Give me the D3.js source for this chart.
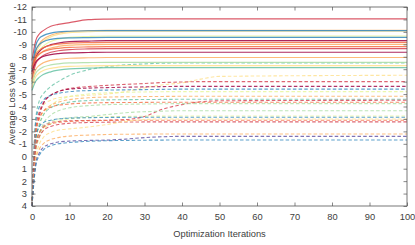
<!DOCTYPE html>
<html>
<head>
<meta charset="utf-8">
<script src="https://cdn.jsdelivr.net/npm/d3@7"></script>
<style>
  html, body { margin: 0; padding: 0; background: #fff; }
  text { font-family: "Liberation Sans", Arial, sans-serif; }
</style>
</head>
<body>
<div id="chart"></div>
<script>
const iterations = [0, 1, 2, 3, 5, 7, 10, 15, 20, 25, 30, 35, 40, 45, 50, 100]

const xTickValues = [0, 10, 20, 30, 40, 50, 60, 70, 80, 90, 100]
const yTickValues = [-12, -11, -10, -9, -8, -7, -6, -5, -4, -3, -2, -1, 0, 1, 2, 3, 4]

// solid runs
const solidColors = ['#d53e4f', '#fdae61', '#fee08b', '#3288bd', '#e6f598', '#3288bd', '#9e0142', '#f46d43',
  '#fdae61', '#f46d43', '#d53e4f', '#9e0142', '#fdae61', '#abdda4', '#fee08b', '#66c2a5']
const solidSeries = [
  [-7.7, -9.3, -9.85, -10.1, -10.45, -10.6, -10.75, -10.98, -11.03, -11.05, -11.05, -11.05, -11.05, -11.05, -11.05, -11.05],
  [-6.8, -8.47, -9.06, -9.4, -9.73, -9.9, -10.03, -10.1, -10.13, -10.13, -10.13, -10.13, -10.13, -10.13, -10.13, -10.13],
  [-6.3, -8.18, -8.85, -9.23, -9.6, -9.79, -9.94, -10.01, -10.05, -10.05, -10.05, -10.05, -10.05, -10.05, -10.05, -10.05],
  [-7.0, -8.9, -9.5, -9.7, -9.9, -10.0, -10.05, -10.09, -10.1, -10.1, -10.1, -10.1, -10.1, -10.1, -10.1, -10.1],
  [-6.0, -7.84, -8.5, -8.86, -9.23, -9.41, -9.56, -9.63, -9.67, -9.67, -9.67, -9.67, -9.67, -9.67, -9.67, -9.67],
  [-6.8, -8.5, -9.0, -9.2, -9.4, -9.48, -9.52, -9.54, -9.55, -9.55, -9.55, -9.55, -9.55, -9.55, -9.55, -9.55],
  [-6.6, -7.95, -8.43, -8.7, -8.97, -9.1, -9.21, -9.26, -9.29, -9.29, -9.29, -9.29, -9.29, -9.29, -9.29, -9.29],
  [-7.2, -8.18, -8.53, -8.73, -8.92, -9.02, -9.1, -9.14, -9.16, -9.16, -9.16, -9.16, -9.16, -9.16, -9.16, -9.16],
  [-6.5, -7.75, -8.2, -8.45, -8.7, -8.83, -8.93, -8.98, -9.0, -9.0, -9.0, -9.0, -9.0, -9.0, -9.0, -9.0],
  [-7.0, -7.91, -8.23, -8.41, -8.59, -8.68, -8.76, -8.79, -8.81, -8.81, -8.81, -8.81, -8.81, -8.81, -8.81, -8.81],
  [-6.2, -7.43, -7.87, -8.11, -8.36, -8.48, -8.58, -8.63, -8.65, -8.65, -8.65, -8.65, -8.65, -8.65, -8.65, -8.65],
  [-6.8, -7.58, -7.86, -8.02, -8.17, -8.25, -8.31, -8.34, -8.36, -8.36, -8.36, -8.36, -8.36, -8.36, -8.36, -8.36],
  [-6.0, -6.97, -7.32, -7.51, -7.71, -7.8, -7.88, -7.92, -7.94, -7.94, -7.94, -7.94, -7.94, -7.94, -7.94, -7.94],
  [-5.8, -6.68, -6.99, -7.17, -7.34, -7.43, -7.5, -7.53, -7.55, -7.55, -7.55, -7.55, -7.55, -7.55, -7.55, -7.55],
  [-5.5, -6.39, -6.71, -6.89, -7.07, -7.16, -7.23, -7.26, -7.28, -7.28, -7.28, -7.28, -7.28, -7.28, -7.28, -7.28],
  [-5.3, -6.03, -6.36, -6.57, -6.79, -6.92, -7.03, -7.08, -7.12, -7.12, -7.12, -7.12, -7.12, -7.12, -7.12, -7.12]
]

// dashed runs
const dashedColors = ['#66c2a5', '#fee08b', '#d53e4f', '#9e0142', '#3288bd', '#e6f598', '#fdae61', '#66c2a5', '#d53e4f',
  '#f46d43', '#abdda4', '#abdda4', '#e6f598', '#3288bd', '#f46d43', '#d53e4f', '#fee08b', '#fdae61', '#5e4fa2', '#3288bd']
const dashedSeries = [
  [4, -3.0, -4.5, -5.0, -5.6, -6.0, -6.5, -6.95, -7.2, -7.35, -7.43, -7.48, -7.5, -7.5, -7.5, -7.5],
  [4, -2.5, -3.6, -4.1, -4.5, -4.7, -4.8, -4.9, -5.0, -5.2, -5.5, -5.75, -5.9, -6.2, -6.42, -6.51],
  [4, -2.2, -3.6, -4.3, -4.9, -5.2, -5.45, -5.6, -5.7, -5.78, -5.85, -5.93, -5.97, -6.0, -6.0, -6.0],
  [4, -1.5, -3.3, -4.2, -4.9, -5.2, -5.4, -5.48, -5.52, -5.55, -5.58, -5.6, -5.62, -5.62, -5.62, -5.62],
  [4, -2.8, -4.0, -4.5, -4.9, -5.05, -5.2, -5.28, -5.32, -5.34, -5.36, -5.38, -5.4, -5.4, -5.4, -5.4],
  [4, -1.0, -2.5, -3.3, -4.1, -4.5, -4.8, -5.0, -5.1, -5.14, -5.17, -5.19, -5.2, -5.2, -5.2, -5.2],
  [4, -1.8, -3.0, -3.6, -4.1, -4.35, -4.55, -4.7, -4.76, -4.78, -4.8, -4.81, -4.82, -4.82, -4.82, -4.82],
  [4, -1.2, -2.6, -3.3, -3.9, -4.15, -4.35, -4.48, -4.53, -4.55, -4.56, -4.57, -4.58, -4.58, -4.58, -4.58],
  [4, -0.8, -1.9, -2.4, -2.7, -2.8, -2.85, -2.88, -2.9, -2.95, -3.2, -3.8, -4.15, -4.38, -4.46, -4.5],
  [4, -2.0, -3.1, -3.6, -3.95, -4.1, -4.2, -4.28, -4.31, -4.32, -4.33, -4.34, -4.34, -4.34, -4.34, -4.34],
  [4, -0.5, -1.8, -2.6, -3.3, -3.65, -3.9, -4.07, -4.15, -4.18, -4.2, -4.22, -4.23, -4.23, -4.23, -4.23],
  [4, -0.8, -1.8, -2.3, -2.8, -3.0, -3.1, -3.2, -3.35, -3.5, -3.58, -3.63, -3.66, -3.66, -3.66, -3.66],
  [4, -0.3, -1.5, -2.1, -2.6, -2.85, -3.0, -3.12, -3.18, -3.2, -3.22, -3.23, -3.24, -3.24, -3.24, -3.24],
  [4, -1.5, -2.4, -2.7, -2.9, -3.0, -3.06, -3.1, -3.12, -3.13, -3.13, -3.13, -3.13, -3.13, -3.13, -3.13],
  [4, -1.0, -1.9, -2.3, -2.6, -2.72, -2.8, -2.85, -2.88, -2.89, -2.89, -2.89, -2.89, -2.89, -2.89, -2.89],
  [4, -0.6, -1.6, -2.05, -2.4, -2.55, -2.65, -2.71, -2.74, -2.75, -2.76, -2.76, -2.76, -2.76, -2.76, -2.76],
  [4, 0.2, -1.0, -1.5, -1.9, -2.1, -2.2, -2.35, -2.55, -2.8, -2.95, -3.0, -3.0, -3.0, -3.0, -3.0],
  [4, 0.3, -0.6, -1.0, -1.35, -1.5, -1.62, -1.7, -1.75, -1.77, -1.78, -1.79, -1.79, -1.79, -1.79, -1.79],
  [4, 0.6, -0.3, -0.7, -1.0, -1.15, -1.22, -1.27, -1.3, -1.38, -1.5, -1.57, -1.6, -1.6, -1.6, -1.6],
  [4, 0.8, -0.1, -0.5, -0.85, -1.0, -1.1, -1.2, -1.25, -1.27, -1.29, -1.3, -1.31, -1.31, -1.31, -1.31]
]

const width = 415
const height = 245
const margin = { left: 32, top: 7, right: 8, bottom: 39 }
const axisColor = '#555'

const svg = d3.select('#chart').append('svg')
  .attr('width', width)
  .attr('height', height)

const x = d3.scaleLinear()
  .domain([0, 100])
  .range([margin.left, width - margin.right])

// loss axis runs upside down: -12 at the top, 4 at the bottom
const y = d3.scaleLinear()
  .domain([4, -12])
  .range([height - margin.bottom, margin.top])

const line = d3.line()
  .x((d, i) => x(iterations[i]))
  .y(d => y(d))
  .curve(d3.curveMonotoneX)

svg.append('g')
  .selectAll('path')
  .data(dashedSeries)
  .join('path')
  .attr('d', d => line(d))
  .attr('fill', 'none')
  .attr('stroke', (d, i) => dashedColors[i])
  .attr('stroke-opacity', 0.8)
  .attr('stroke-width', 1.1)
  .attr('stroke-dasharray', '3.5,2.2')

svg.append('g')
  .selectAll('path')
  .data(solidSeries)
  .join('path')
  .attr('d', d => line(d))
  .attr('fill', 'none')
  .attr('stroke', (d, i) => solidColors[i])
  .attr('stroke-opacity', 0.85)
  .attr('stroke-width', 1.2)

const fmt = d => String(d)

const styleAxis = g => {
  g.select('.domain').remove()
  g.selectAll('.tick line').attr('stroke', axisColor).attr('stroke-width', 0.7)
  g.selectAll('.tick text')
    .attr('fill', '#404040')
    .style('font-size', '9.3px')
}

// bottom and top ticks point inwards
svg.append('g')
  .attr('transform', `translate(0, ${height - margin.bottom})`)
  .call(d3.axisBottom(x).tickValues(xTickValues).tickFormat(fmt).tickSize(-3.5).tickPadding(7))
  .call(styleAxis)

svg.append('g')
  .attr('transform', `translate(0, ${margin.top})`)
  .call(d3.axisTop(x).tickValues(xTickValues).tickFormat('').tickSize(-3.5))
  .call(styleAxis)

svg.append('g')
  .attr('transform', `translate(${margin.left}, 0)`)
  .call(d3.axisLeft(y).tickValues(yTickValues).tickFormat(fmt).tickSize(-3.5).tickPadding(5))
  .call(styleAxis)

svg.append('g')
  .attr('transform', `translate(${width - margin.right}, 0)`)
  .call(d3.axisRight(y).tickValues(yTickValues).tickFormat('').tickSize(-3.5))
  .call(styleAxis)

svg.append('rect')
  .attr('x', margin.left)
  .attr('y', margin.top)
  .attr('width', width - margin.left - margin.right)
  .attr('height', height - margin.top - margin.bottom)
  .attr('fill', 'none')
  .attr('stroke', axisColor)
  .attr('stroke-width', 0.8)

svg.append('text')
  .attr('x', (margin.left + width - margin.right) / 2)
  .attr('y', 237)
  .attr('text-anchor', 'middle')
  .attr('fill', '#404040')
  .style('font-size', '9.3px')
  .text('Optimization Iterations')

svg.append('text')
  .attr('transform', `translate(15, ${(margin.top + height - margin.bottom) / 2 - 3}) rotate(-90)`)
  .attr('text-anchor', 'middle')
  .attr('fill', '#404040')
  .style('font-size', '9.3px')
  .text('Average Loss Value')
</script>
</body>
</html>
